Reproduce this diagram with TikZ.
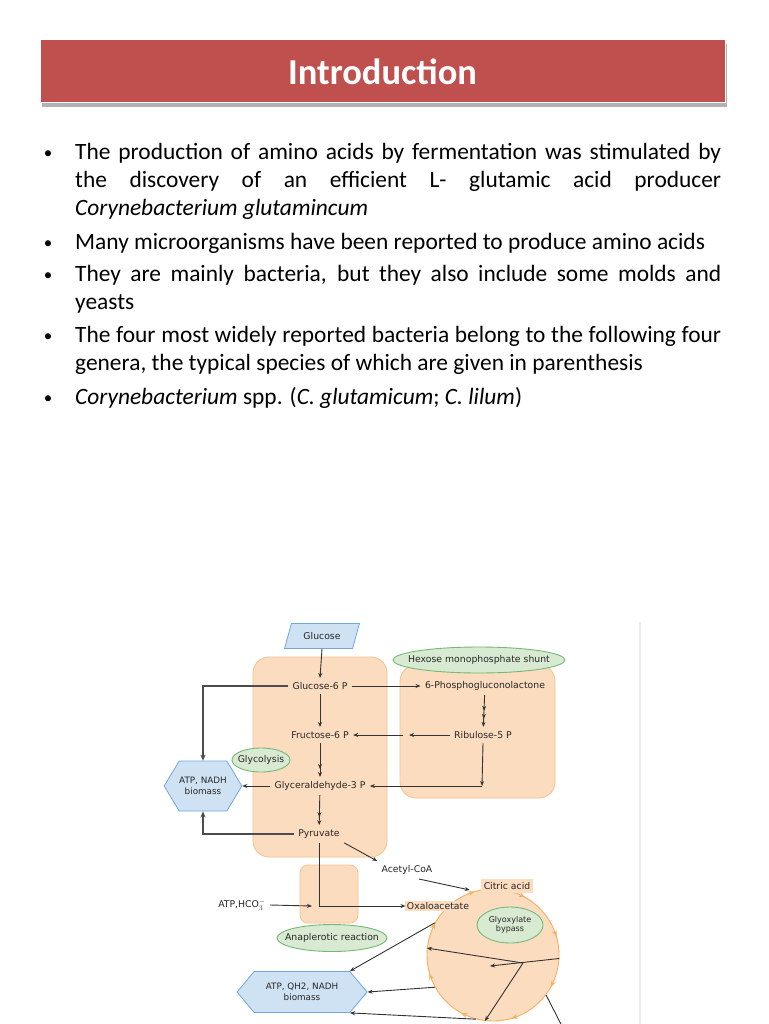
\documentclass[tikz,border=0pt]{standalone}
\usepackage{fontspec}
\setmainfont{Carlito}
\newfontfamily\diafont{DejaVu Sans}
\usetikzlibrary{arrows.meta, positioning, shapes.geometric, shapes.symbols, shadows, decorations.markings}
\definecolor{titlered}{HTML}{C0504D}
\definecolor{peach}{HTML}{FCDCBF}
\definecolor{peachline}{HTML}{F7C08F}
\definecolor{tcaline}{HTML}{F5AE62}
\definecolor{skyfill}{HTML}{CFE2F3}
\definecolor{skyline}{HTML}{6FA8DC}
\definecolor{mintfill}{HTML}{D9EAD3}
\definecolor{mintline}{HTML}{74B978}
\newcommand{\ovaltext}[1]{\makebox[0pt]{#1}}

\begin{document}
\begin{tikzpicture}[x=1pt, y=-1pt,
  titlebar/.style={fill=titlered, draw=white, line width=1pt, minimum width=685pt,
                   minimum height=63pt, text=white, font=\bfseries\fontsize{36.5}{44}\selectfont,
                   drop shadow={shadow xshift=1.5pt, shadow yshift=-4pt, fill=black!60}},
  bodytext/.style={anchor=base west, text width=646pt, align=justify, inner sep=0pt,
                   font=\fontsize{23.4}{28}\selectfont},
  bulletdot/.style={anchor=base, inner sep=0pt, font=\fontsize{17}{28}\selectfont},
  zone/.style={draw=peachline, fill=peach, rounded corners=16pt, line width=0.8pt},
  metab/.style={font=\diafont\fontsize{9.3}{10}\selectfont, text=black!85, inner sep=1.5pt,
                outer sep=3pt},
  tagoval/.style={ellipse, draw=mintline, fill=mintfill, line width=0.9pt, inner sep=0pt,
                  font=\diafont\fontsize{9.3}{10}\selectfont, text=black!85},
  hexbox/.style={signal, signal to=east and west, draw=skyline, fill=skyfill, line width=0.8pt,
                 align=center, inner sep=0pt, font=\diafont\fontsize{8.8}{10.5}\selectfont, text=black!85},
  sugar/.style={trapezium, trapezium left angle=60, trapezium right angle=120,
                trapezium stretches=true, draw=skyline, fill=skyfill, line width=0.8pt,
                minimum width=75pt, minimum height=25pt, inner sep=0pt,
                font=\diafont\fontsize{9.3}{10}\selectfont, text=black!85},
  tca/.style={circle, draw=tcaline, fill=peach, line width=0.9pt, minimum size=132pt, inner sep=0pt,
              postaction={decorate, decoration={markings,
                mark=between positions 0.06 and 0.96 step 0.125 with
                  {\arrow{Stealth[reversed, length=6pt, width=5pt, color=tcaline]}}}}},
  arr/.style={draw=black!80, line width=0.9pt, -{Stealth[length=5pt, width=4pt]}},
  arrtwo/.style={draw=black!80, line width=0.9pt,
                 -{Stealth[length=5pt, width=4pt, sep=3pt]Stealth[length=5pt, width=4pt]}},
  arrthree/.style={draw=black!80, line width=0.9pt,
                   -{Stealth[length=5pt, width=4pt, sep=3pt]Stealth[length=5pt, width=4pt, sep=3pt]Stealth[length=5pt, width=4pt]}},
  fatarr/.style={draw=black!70, line width=1.8pt, -{Stealth[length=6pt, width=5pt]}},
  framerule/.style={draw=black!8, line width=1.5pt},
]

\fill[white] (0,0) rectangle (768,1024);
\useasboundingbox (0,0) rectangle (768,1024);

% title
\node[titlebar] (title) at (382.5,71.5) {Introduction};

% bullets
\node[bulletdot] (d1) at (48,159) {•};
\node[bodytext] (b1) at (75,160) {The production of amino acids by fermentation was stimulated by\linebreak
  the discovery of an efficient L- glutamic acid producer\linebreak
  \textit{Corynebacterium glutamincum}};
\node[bulletdot] (d2) at (48,248) {•};
\node[bodytext] (b2) at (75,249) {Many microorganisms have been reported to produce amino acids};
\node[bulletdot] (d3) at (48,280) {•};
\node[bodytext] (b3) at (75,281) {They are mainly bacteria, but they also include some molds and\linebreak yeasts};
\node[bulletdot] (d4) at (48,341) {•};
\node[bodytext] (b4) at (75,342) {The four most widely reported bacteria belong to the following four\linebreak
  genera, the typical species of which are given in parenthesis};
\node[bulletdot] (d5) at (48,403) {•};
\node[bodytext] (b5) at (75,404) {\textit{Corynebacterium} spp. (\textit{C. glutamicum}; \textit{C. lilum})};

% pathway figure
\draw[framerule] (640,622) -- (640,1024);

\node[zone, minimum width=134pt, minimum height=200pt] (glyzone) at (320,757) {};
\node[zone, minimum width=155pt, minimum height=133pt] (pentzone) at (477.5,731.5) {};
\node[zone, rounded corners=8pt, minimum width=58pt, minimum height=58pt] (anazone) at (329,894) {};
\node[tca] (tca) at (493,955) {};

\node[sugar] (glucose) at (322,636) {Glucose};
\node[tagoval, minimum width=172pt, minimum height=26pt] (hms) at (479,660) {\ovaltext{Hexose monophosphate shunt}};
\node[tagoval, minimum width=58pt, minimum height=24pt] (glyc) at (261,760) {\ovaltext{Glycolysis}};
\node[tagoval, minimum width=110pt, minimum height=27pt] (anaoval) at (332,938) {\ovaltext{Anaplerotic reaction}};
\node[tagoval, minimum width=66pt, minimum height=36pt, align=center,
      font=\diafont\fontsize{8}{9}\selectfont] (glyox) at (510,925) {Glyoxylate\\bypass};

\node[metab] (glc6p) at (320,686) {Glucose-6 P};
\node[metab] (frc6p) at (320,735) {Fructose-6 P};
\node[metab] (gap) at (320,786) {Glyceraldehyde-3 P};
\node[metab] (pyr) at (319,834) {Pyruvate};
\node[metab] (pgl) at (485,686) {6-Phosphogluconolactone};
\node[metab] (ru5p) at (483,735) {Ribulose-5 P};
\node[metab] (accoa) at (407,870) {Acetyl-CoA};
\node[metab, fill=peach, outer sep=0pt] (oaa) at (438,906) {Oxaloacetate};
\node[metab, fill=peach, inner sep=3pt, outer sep=0pt] (cit) at (507,886) {Citric acid};
\node[metab] (hco) at (242,905) {ATP,HCO$_3^{-}$};

\node[hexbox, signal pointer angle=118, minimum width=73pt, minimum height=50pt] (atp1) at (203,786) {ATP, NADH\\biomass};
\node[hexbox, signal pointer angle=100, minimum width=130pt, minimum height=41pt] (atp2) at (302,992) {ATP, QH2, NADH\\biomass};

\coordinate (ruMid) at (409,735);
\coordinate (ruGap) at (403,735);
\coordinate (ruLow) at (482,786);
\coordinate (anaIn) at (312,906);
\coordinate (tcaIn) at (490,966);
\coordinate (tcaFork) at (523,963);
\coordinate (offR) at (566,1034);

\draw[arr] (glucose.south) -- (glc6p.north);
\draw[arr] (glc6p) -- (frc6p);
\draw[arrtwo] (frc6p) -- (gap);
\draw[arrtwo] (gap) -- (pyr);
\draw[arr] (glc6p.east) -- (pgl.west);
\draw[arrthree] (pgl) -- (ru5p);
\draw[arr] (ru5p.west) -- (ruMid);
\draw[arr] (ruGap) -- (frc6p.east);
\draw[arr] (ru5p.south) -- (ruLow);
\draw[arr] (ruLow) -- (gap.east);
\draw[fatarr] (glc6p.west) -| (atp1.north);
\draw[arr] (gap.west) -- (atp1.east);
\draw[fatarr] (pyr.west) -| (atp1.south);
\draw[arr] (pyr.south east) -- (accoa.north west);
\draw[arr] (pyr.south) |- (oaa.west);
\draw[arr] (hco.east) -- (anaIn);
\draw[arr] ([xshift=12pt]accoa.south) -- ([shift={(-11pt,-4pt)}]cit.west);

\draw[arr] (tca.-3) -- (tcaIn);
\draw[arr] (tcaFork) -- (tca.174);
\draw[arr] (tcaFork) -- (tca.263);
\draw[arr] (tca.151) -- (atp2.north east);
\draw[arr] (tca.209) -- (atp2.east);
\draw[arr] (tca.255) -- (atp2.south east);
\draw[arr] (tca.-37) -- (offR);

\end{tikzpicture}
\end{document}
